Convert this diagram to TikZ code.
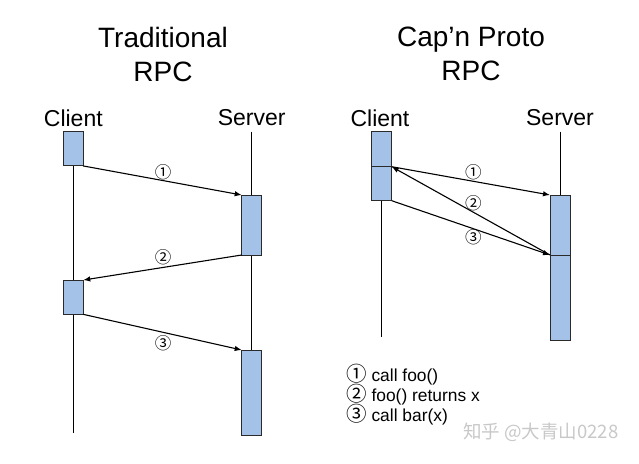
\documentclass[tikz,border=0pt]{standalone}
\usepackage{fontspec}
\setmainfont{Liberation Sans}
\newfontfamily\circfont{Noto Sans CJK SC}
\newfontfamily\cjkfont{Noto Sans CJK SC}
\usetikzlibrary{arrows.meta}
\definecolor{boxfill}{HTML}{A4C2E8}
\definecolor{boxline}{HTML}{2A2A2A}
\definecolor{wmgray}{HTML}{C8C8C8}
\newcommand{\legcirc}[1]{{\circfont\fontsize{20.5}{20}\selectfont #1}}
\begin{document}
\begin{tikzpicture}[x=1pt,y=-1pt,
  act/.style={draw=boxline,fill=boxfill,line width=1pt,minimum width=20pt,inner sep=0pt,outer sep=0pt,rectangle},
  life/.style={draw=black,line width=0.9pt},
  msg/.style={draw=black,line width=1.1pt,-{Latex[length=7pt,width=5.5pt]}},
  title/.style={font=\fontsize{28}{34}\selectfont,align=center},
  role/.style={font=\fontsize{23}{27}\selectfont},
  num/.style={font=\circfont\fontsize{16.5}{17}\selectfont,inner sep=0pt},
  legend/.style={font=\fontsize{17.4}{20}\selectfont,anchor=base west,inner sep=0pt}]
\useasboundingbox (0,0) rectangle (639,463);
% titles
\node[title] (t1) at (163,54) {Traditional\\RPC};
\node[title] (t2) at (471,54) {Cap'n Proto\\RPC};
\node[role] (lc) at (73.3,118) {Client};
\node[role] (ls) at (251.7,118) {Server};
\node[role] (rcl) at (380,118) {Client};
\node[role] (rsl) at (560,118) {Server};
% lifeline end coordinates
\coordinate (lct) at (73.3,166);
\coordinate (lcb) at (73.3,433);
\coordinate (lst) at (251.7,131.7);
\coordinate (lsb) at (251.7,435);
\coordinate (rct) at (381.7,200);
\coordinate (rcb) at (381.7,336.7);
\coordinate (rst) at (560,131.7);
\coordinate (rsb) at (560,340);
\draw[life] (lct) -- (lcb);
\draw[life] (lst) -- (lsb);
\draw[life] (rct) -- (rcb);
\draw[life] (rst) -- (rsb);
% left boxes
\node[act,minimum height=34.3pt] (cs1) at (73.3,148.8) {};
\node[act,minimum height=60pt] (ss1) at (251.7,225) {};
\node[act,minimum height=34.3pt] (cc2) at (73.3,297.2) {};
\node[act,minimum height=85pt] (ss2) at (251.7,392.5) {};
% right boxes
\node[act,minimum height=35pt] (rc1) at (381.7,149.2) {};
\node[act,minimum height=34pt] (rc2) at (381.7,183.7) {};
\node[act,minimum height=60pt] (rs1) at (560,225) {};
\node[act,minimum height=85pt] (rs2) at (560,297.5) {};
% left messages
\draw[msg] (cs1.south east) -- (ss1.north west);
\draw[msg] (ss1.south west) -- (cc2.north east);
\draw[msg] (cc2.south east) -- (ss2.north west);
\node[num] (n1) at (163,172) {①};
\node[num] (n2) at (163,257) {②};
\node[num] (n3) at (163,343) {③};
% right messages
\draw[msg] (rc1.south east) -- (rs1.north west);
\draw[msg] (rs1.south west) -- (rc1.south east);
\draw[msg] (rc2.south east) -- (rs1.south west);
\node[num] (m1) at (473.3,172) {①};
\node[num] (m2) at (473.3,203.3) {②};
\node[num] (m3) at (473.3,237) {③};
% legend
\node[legend] (g1) at (346,381.5) {\legcirc{①} call foo()};
\node[legend] (g2) at (346,401.5) {\legcirc{②} foo() returns x};
\node[legend] (g3) at (346,421.5) {\legcirc{③} call bar(x)};
% watermark
\node[font=\cjkfont\fontsize{18.5}{20}\selectfont,text=wmgray,anchor=west,inner sep=0pt] (wm) at (463,432) {知乎 @大青山0228};
\end{tikzpicture}
\end{document}
